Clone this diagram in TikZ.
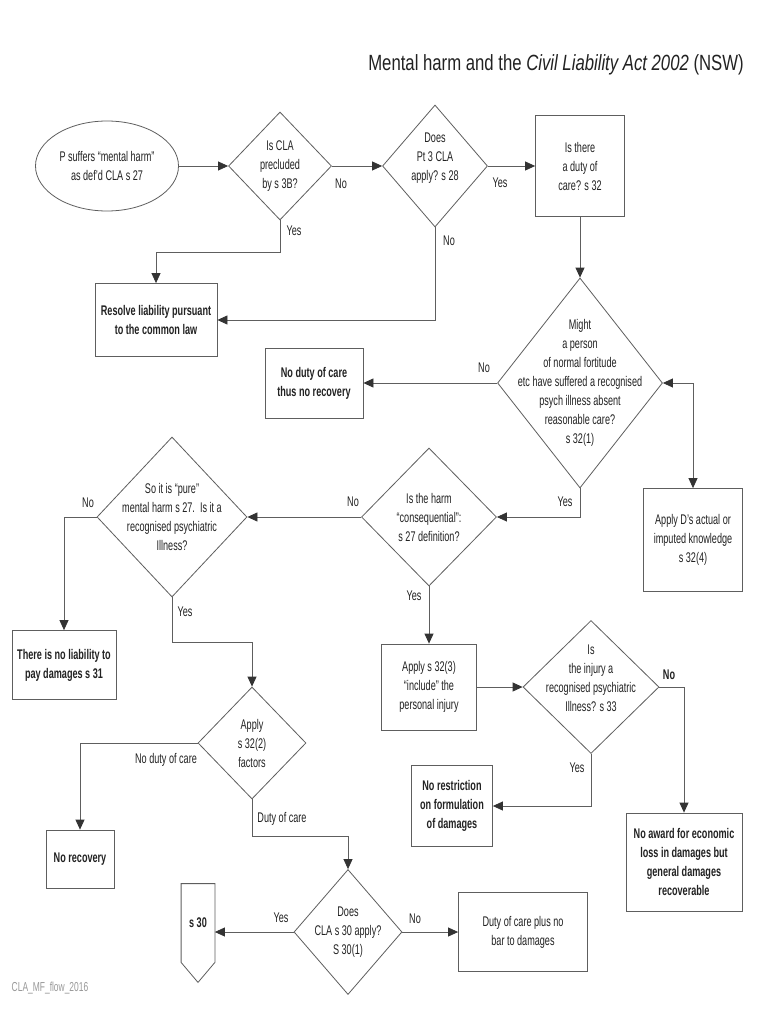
\documentclass[tikz,border=0pt]{standalone}
\usepackage{fontspec}
\setmainfont[FakeStretch=0.65]{Liberation Sans}
\newfontfamily\titlefont[FakeStretch=0.76]{Liberation Sans}
\usetikzlibrary{shapes.geometric,arrows.meta}
\definecolor{linec}{HTML}{5E5E5E}
\definecolor{inkc}{HTML}{222222}
\definecolor{tipc}{HTML}{333333}
\newcommand{\nf}{\fontsize{14}{19}\selectfont}

\begin{document}
\begin{tikzpicture}[x=1pt,y=-1pt,font=\nf,text=inkc,line width=0.8pt,
    >={Triangle[length=10pt,width=9pt,color=tipc]},
    dec/.style={diamond,draw=linec,inner sep=0pt},
    blk/.style={rectangle,draw=linec,align=center,inner sep=0pt},
    stopbox/.style={blk,font=\nf\bfseries},
    yn/.style={inner sep=1pt}]
  \fill[white] (0,0) rectangle (768,1024);
  \useasboundingbox (0,0) rectangle (768,1024);
  \draw
    (556,65) node[font=\titlefont\fontsize{22}{26}\selectfont] (title) {Mental harm and the \textit{Civil Liability Act 2002} (NSW)}
    (107,166) node[ellipse,draw=linec,align=center,inner sep=0pt,minimum width=143,minimum height=90] (start) {P suffers “mental harm”\\as def’d CLA s 27}
    (280,166) node[dec,minimum width=103,minimum height=108,label={[align=center]center:{Is CLA\\precluded\\by s 3B?}}] (d1) {}
    (435,166) node[dec,minimum width=105,minimum height=122,label={[align=center,yshift=8pt]center:{Does\\Pt 3 CLA\\apply? s 28}}] (d2) {}
    (580,166) node[blk,minimum width=89,minimum height=101] (dutyq) {Is there\\a duty of\\care? s 32}
    (156,320) node[stopbox,minimum width=122,minimum height=73] (common) {Resolve liability pursuant\\to the common law}
    (580,383) node[dec,minimum width=165,minimum height=210,label={[align=center]center:{Might\\a person\\of normal fortitude\\etc have suffered a recognised\\psych illness absent\\reasonable care?\\s 32(1)}}] (fort) {}
    (314,383) node[stopbox,minimum width=98,minimum height=70] (nodc) {No duty of care\\thus no recovery}
    (693,540) node[blk,minimum width=99,minimum height=103] (know) {Apply D’s actual or\\imputed knowledge\\s 32(4)}
    (429,517) node[dec,minimum width=135,minimum height=138,label={[align=center]center:{Is the harm\\“consequential”:\\s 27 definition?}}] (conseq) {}
    (172,517) node[dec,minimum width=150,minimum height=160,label={[align=center]center:{So it is “pure”\\mental harm s 27.\ \ Is it a\\recognised psychiatric\\Illness?}}] (pure) {}
    (64,665) node[stopbox,minimum width=104,minimum height=69] (noliab) {There is no liability to\\pay damages s 31}
    (252,743) node[dec,minimum width=108,minimum height=112,label={[align=center]center:{Apply\\s 32(2)\\factors}}] (f322) {}
    (80,859) node[stopbox,minimum width=68,minimum height=58] (norec) {No recovery}
    (348,932) node[dec,minimum width=108,minimum height=125,label={[align=center]center:{Does\\CLA s 30 apply?\\S 30(1)}}] (s30q) {}
    (198,923) node[font=\nf\bfseries,inner sep=0pt,minimum width=33,minimum height=78] (offp) {s 30}
    (523,932) node[blk,minimum width=129,minimum height=79] (dcare) {Duty of care plus no\\bar to damages}
    (429,687) node[blk,minimum width=95,minimum height=86] (incl) {Apply s 32(3)\\“include” the\\personal injury}
    (591,687) node[dec,minimum width=136,minimum height=133,label={[align=center,yshift=9pt]center:{Is\\the injury a\\recognised psychiatric\\Illness? s 33}}] (injq) {}
    (452,806) node[stopbox,minimum width=81,minimum height=81] (norestr) {No restriction\\on formulation\\of damages}
    (684,862) node[stopbox,minimum width=116,minimum height=98] (noaward) {No award for economic\\loss in damages but\\general damages\\recoverable}
    (50,988) node[font=\fontsize{13}{15}\selectfont,text=black!40] (foot) {CLA\_MF\_flow\_2016};
  % off-page marker
  \draw[linec] (offp.north west) -- (offp.north east) -- (offp.south east)
    -- ([yshift=-20pt]offp.south) -- (offp.south west) -- cycle;
  \path[every node/.style={yn}]
    (341,184) node (l1) {No}
    (500,183) node (l2) {Yes}
    (294,231) node (l3) {Yes}
    (449,241) node (l4) {No}
    (484,368) node (l5) {No}
    (565,502) node (l6) {Yes}
    (353,502) node (l7) {No}
    (88,503) node (l8) {No}
    (185,612) node (l9) {Yes}
    (166,760) node (l10) {No duty of care}
    (282,819) node (l11) {Duty of care}
    (281,918) node (l12) {Yes}
    (415,919) node (l13) {No}
    (414,596) node (l14) {Yes}
    (577,768) node (l15) {Yes}
    (669,675) node[font=\nf\bfseries] (l16) {No};
  \begin{scope}[->,draw=linec]
    \draw (start) to (d1);
    \draw (d1) to (d2);
    \draw (d2) to (dutyq);
    \draw (d1.south) -- ++(0,32) -| (common.north);
    \draw (d2.south) |- (common.east);
    \draw (dutyq) to (fort);
    \draw (fort) to (nodc);
    \draw[<->] (fort.east) -| (know.north);
    \draw (fort.south) |- (conseq.east);
    \draw (conseq) to (pure);
    \draw (pure.west) -| (noliab.north);
    \draw (pure.south) -- ++(0,45) -| (f322.north);
    \draw (f322.west) -| (norec.north);
    \draw (f322.south) -- ++(0,37) -| (s30q.north);
    \draw (s30q.west) -- (s30q.west -| offp.east);
    \draw (s30q) to (dcare);
    \draw (conseq) to (incl);
    \draw (incl) to (injq);
    \draw (injq.south) |- (norestr.east);
    \draw (injq.east) -| (noaward.north);
  \end{scope}
\end{tikzpicture}
\end{document}
